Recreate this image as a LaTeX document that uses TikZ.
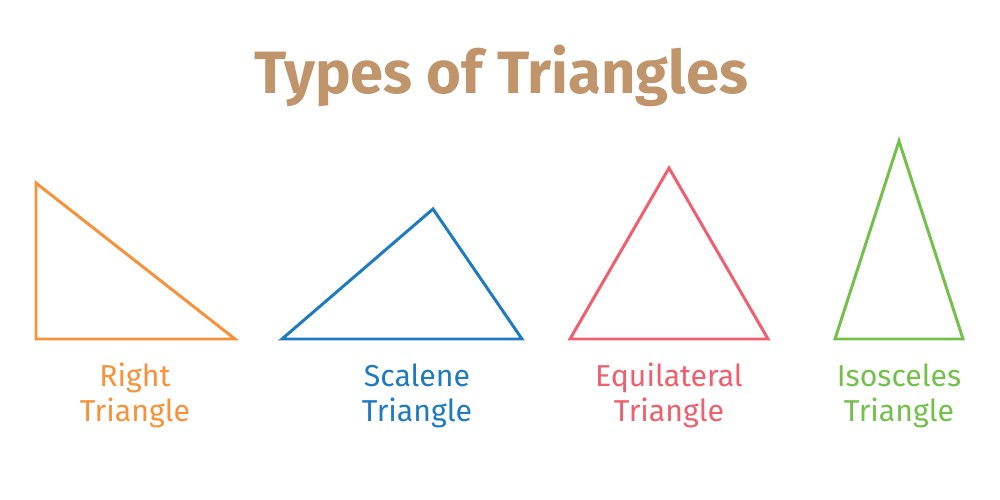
\documentclass[tikz,border=0pt]{standalone}
\usepackage{fontspec}
\setmainfont{Fira Sans}
\usepackage{tikz}
\usetikzlibrary{positioning}
\definecolor{titlebrown}{HTML}{C0956B}
\definecolor{rightorange}{HTML}{F7923A}
\definecolor{scaleneblue}{HTML}{1F7BC1}
\definecolor{equired}{HTML}{EF5F6D}
\definecolor{isogreen}{HTML}{73C04B}
\tikzset{
  tri/.style={line width=0.85pt, line join=miter},
  trilabel/.style={anchor=base, font=\fontsize{8.6}{10}\selectfont, inner sep=0pt}
}

\begin{document}
\begin{tikzpicture}[x=0.01cm, y=-0.01cm]
        \useasboundingbox (0,0) rectangle (1000,500);
        \node [anchor=base, inner sep=0pt, text=titlebrown, font=\fontsize{17}{20}\selectfont\bfseries] (title) at (501,93) {Types of Triangles};
        % right
        \coordinate (RA) at (36,183);
        \coordinate (RB) at (36,339);
        \coordinate (RC) at (235,339);
        \draw [tri, rightorange] (RA) -- (RB) -- (RC) -- cycle;
        \node [trilabel, text=rightorange] (rightA) at (135,386) {Right};
        \node [trilabel, text=rightorange] (rightB) at (135,421) {Triangle};
        % scalene
        \coordinate (SA) at (282,339);
        \coordinate (SB) at (433,209);
        \coordinate (SC) at (522,339);
        \draw [tri, scaleneblue] (SA) -- (SB) -- (SC) -- cycle;
        \node [trilabel, text=scaleneblue] (scaleneA) at (417,386) {Scalene};
        \node [trilabel, text=scaleneblue] (scaleneB) at (417,421) {Triangle};
        % equilateral
        \coordinate (EA) at (570,339);
        \coordinate (EB) at (669,168);
        \coordinate (EC) at (768,339);
        \draw [tri, equired] (EA) -- (EB) -- (EC) -- cycle;
        \node [trilabel, text=equired] (equiA) at (669,386) {Equilateral};
        \node [trilabel, text=equired] (equiB) at (669,421) {Triangle};
        % isosceles
        \coordinate (IA) at (835,339);
        \coordinate (IB) at (899,141);
        \coordinate (IC) at (963,339);
        \draw [tri, isogreen] (IA) -- (IB) -- (IC) -- cycle;
        \node [trilabel, text=isogreen] (isoA) at (899,386) {Isosceles};
        \node [trilabel, text=isogreen] (isoB) at (899,421) {Triangle};
\end{tikzpicture}
\end{document}
